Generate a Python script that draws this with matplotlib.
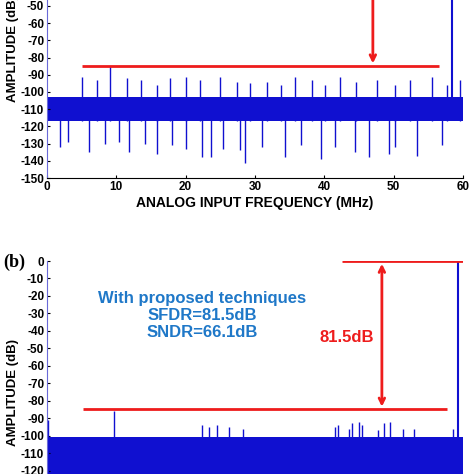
import matplotlib
matplotlib.use("Agg")
import matplotlib.pyplot as plt

plt.rcParams['font.family'] = ['Liberation Sans', 'DejaVu Sans']
plt.rcParams['font.weight'] = 'bold'
plt.rcParams['axes.unicode_minus'] = False

# Panel (a) data
a_floor_hi, a_floor_lo = -103, -117
a_spur_f = [5.0, 7.2, 9.1, 11.5, 13.5, 15.9, 17.8, 20.0, 22.1, 25.0, 27.4, 29.3, 31.7, 33.7,
            35.8, 38.2, 40.1, 42.3, 44.5, 47.6, 50.2, 52.4, 55.5, 57.7, 59.6]
a_spur_db = [-91, -93, -85, -92, -93, -96, -92, -91, -93, -91, -94, -95, -94, -96,
             -91, -93, -96, -91, -94, -93, -96, -93, -91, -96, -93]
a_dip_f = [1.9, 3.0, 6.0, 8.3, 10.4, 11.8, 14.1, 15.9, 18.1, 20.0, 22.4, 23.7, 25.4, 27.8,
           28.6, 31.0, 34.3, 36.6, 39.5, 41.5, 44.4, 46.5, 49.3, 50.2, 53.4, 57.0]
a_dip_db = [-132, -129, -135, -130, -129, -135, -130, -136, -131, -133, -138, -138, -133, -134,
            -141, -132, -138, -131, -139, -132, -135, -138, -136, -132, -137, -131]
a_signal_f, a_signal_db = 58.4, 0

# Panel (b) data
b_floor_hi, b_floor_lo = -101, -150
b_spur_f = [0.1, 9.7, 22.3, 23.4, 24.5, 26.3, 28.3, 41.5, 42.0, 43.5, 44.0, 45.0, 45.5,
            47.8, 48.6, 49.5, 51.4, 53.0, 58.5]
b_spur_db = [-91, -86, -94, -95, -94, -95, -96, -95, -94, -96, -93, -92, -94,
             -97, -93, -92, -96, -96, -96]
b_signal_f, b_signal_db = 59.3, 0

blue = '#1010d0'
red = '#ee1c1c'
W = 474

def setup(ax):
    ax.set_xlim(0, 60)
    ax.set_ylim(-150, 0)
    ax.set_yticks(range(-150, 1, 10))
    ax.set_xticks(range(0, 61, 10))
    ax.tick_params(labelsize=8.5, length=2, direction='in', pad=2)
    for s in ['top', 'right']:
        ax.spines[s].set_visible(False)
    ax.spines['left'].set_color('#6a6ad8')
    ax.set_ylabel('AMPLITUDE (dB)', fontsize=9.5, fontweight='bold', labelpad=1)

fig = plt.figure(figsize=(4.74, 4.74), dpi=100)

ax1 = fig.add_axes([47 / W, 1 - 178 / W, 416 / W, 258 / W])
setup(ax1)
ax1.fill_between([0, 60], a_floor_lo, a_floor_hi, color=blue, lw=0)
ax1.vlines(a_spur_f, a_floor_lo, a_spur_db, color=blue, lw=1)
ax1.vlines(a_dip_f, a_dip_db, a_floor_hi, color=blue, lw=1)
ax1.vlines([a_signal_f], a_floor_lo, [a_signal_db], color=blue, lw=1.5)
ax1.hlines(-85, 5, 56.5, color=red, lw=2)
ax1.annotate('', xy=(47, -85), xytext=(47, 0),
             arrowprops=dict(arrowstyle='->', color=red, lw=2))
ax1.set_xlabel('ANALOG INPUT FREQUENCY (MHz)', fontsize=10, fontweight='bold', labelpad=2)

ax2 = fig.add_axes([47 / W, 1 - 523 / W, 416 / W, 262 / W])
setup(ax2)
ax2.fill_between([0, 60], b_floor_lo, b_floor_hi, color=blue, lw=0)
ax2.vlines(b_spur_f, b_floor_lo, b_spur_db, color=blue, lw=1)
ax2.vlines([b_signal_f], b_floor_lo, [b_signal_db], color=blue, lw=1.5)
ax2.hlines(0, 42.5, 60, color=red, lw=2)
ax2.hlines(-85, 5.2, 57.7, color=red, lw=2)
ax2.annotate('', xy=(48.3, -85), xytext=(48.3, 0),
             arrowprops=dict(arrowstyle='<->', color=red, lw=2))
ax2.text(43.2, -44, '81.5dB', color=red, fontsize=12, ha='center', va='center')
ax2.text(22.4, -17, 'With proposed techniques\nSFDR=81.5dB\nSNDR=66.1dB',
         color='#1f78c8', fontsize=12, ha='center', va='top', linespacing=1.2)
fig.text(3 / W, 1 - 262 / W, '(b)', fontsize=13, fontweight='bold',
         family='Liberation Serif', va='center')

fig.savefig('out.png', dpi=100)
